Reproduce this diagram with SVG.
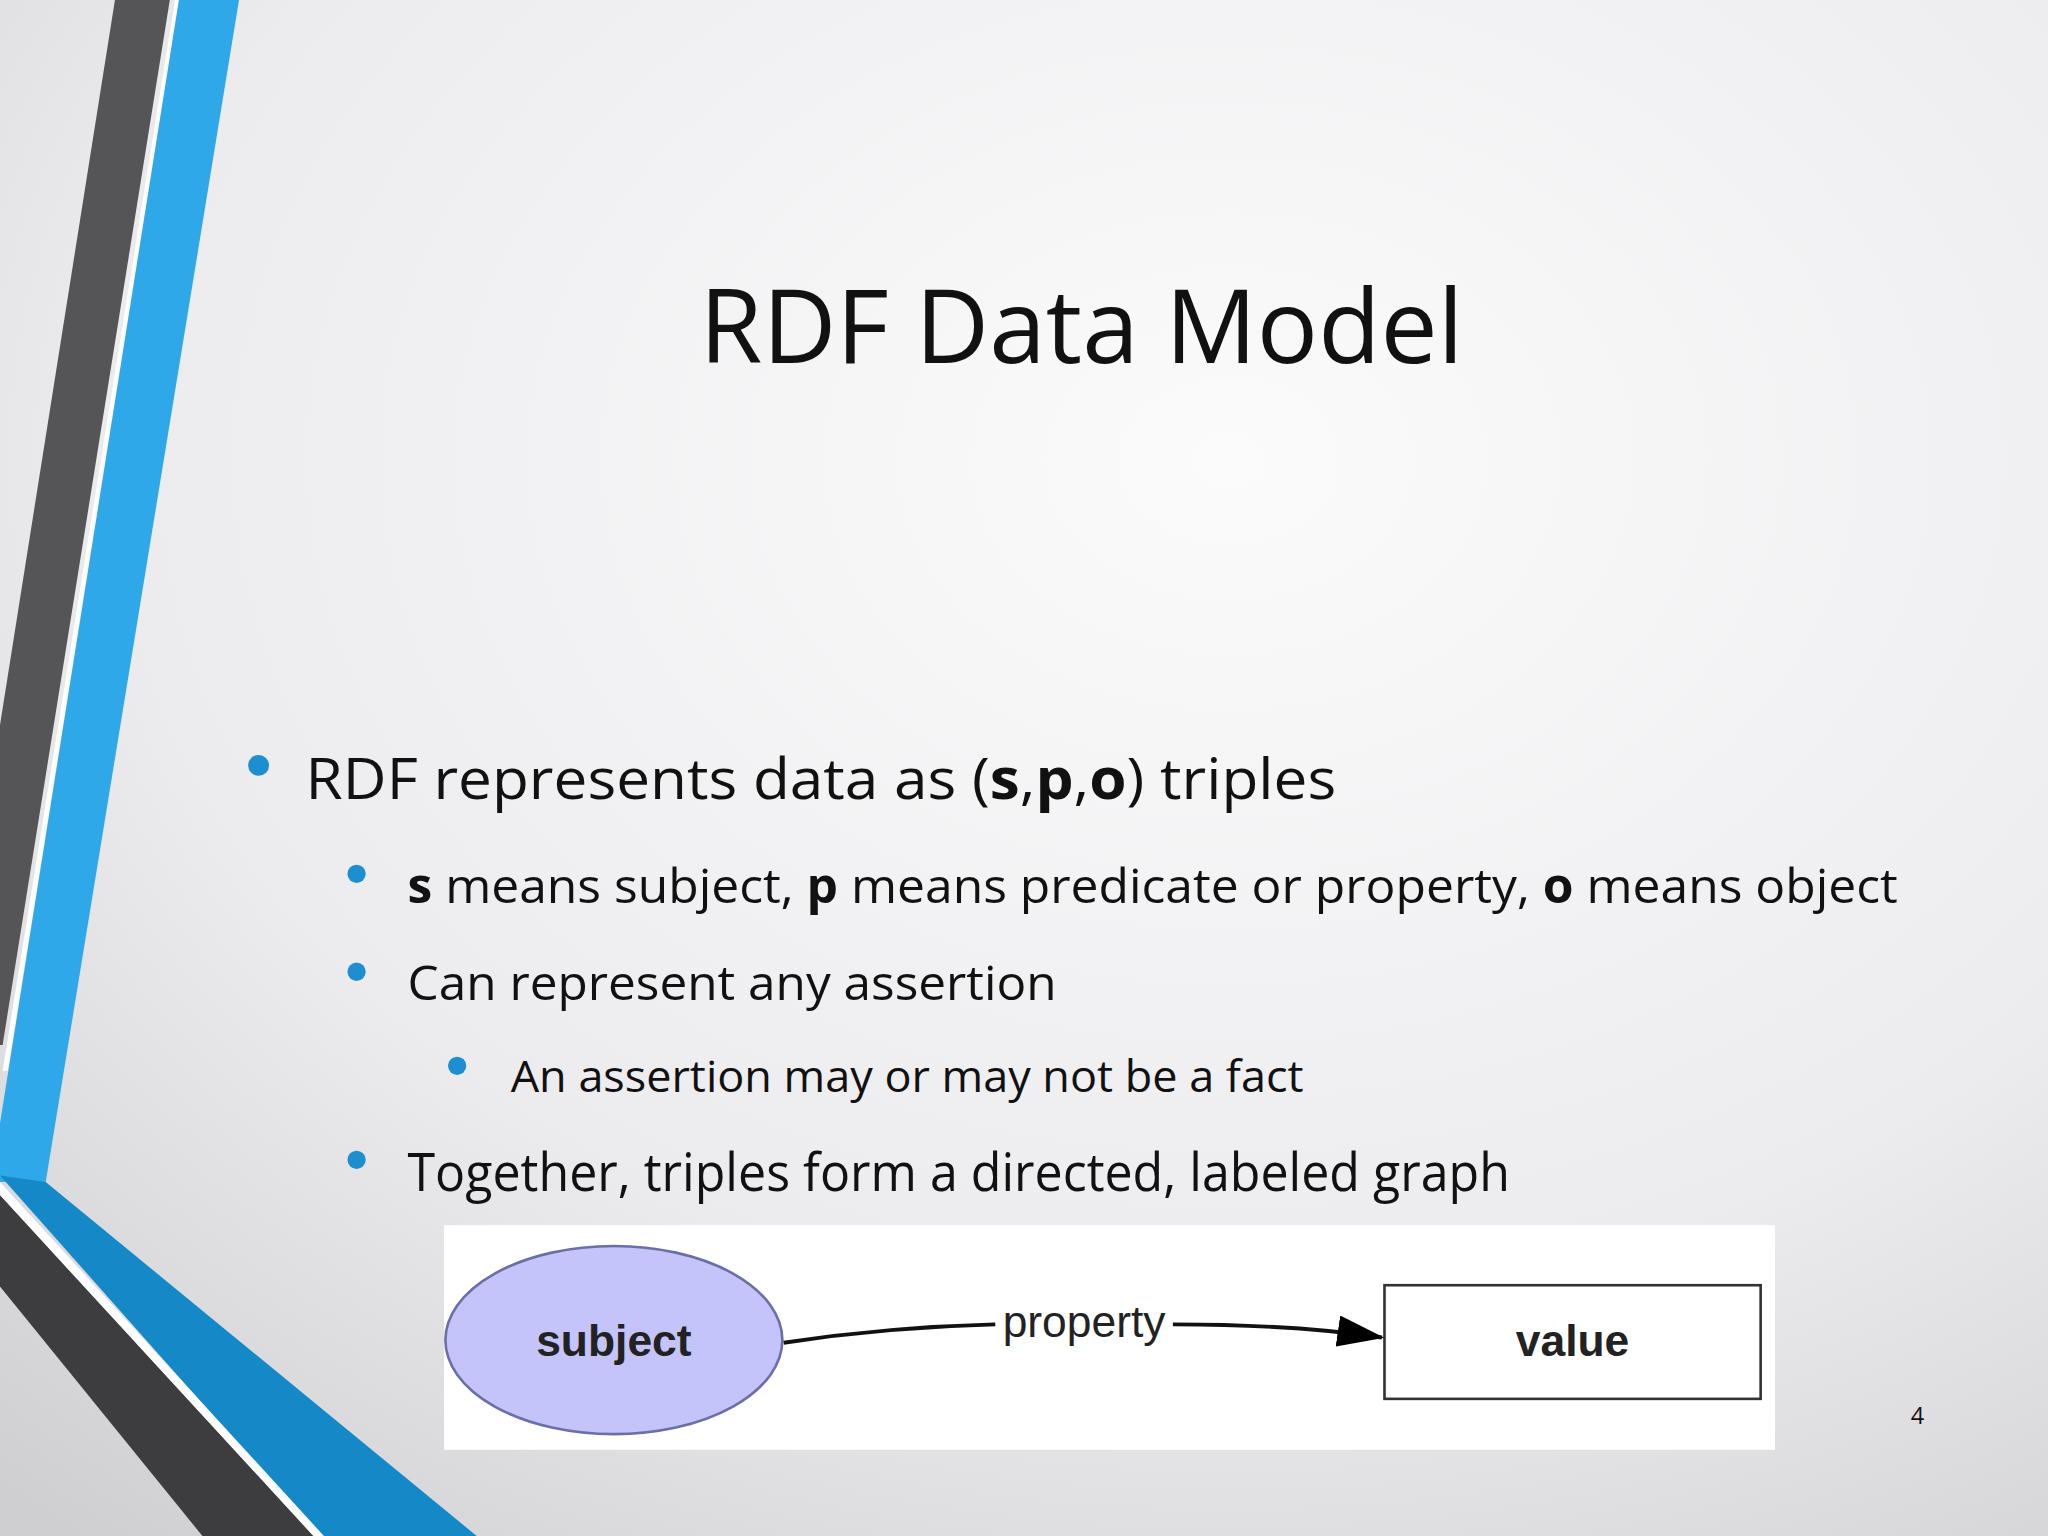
<svg xmlns="http://www.w3.org/2000/svg" width="2048" height="1536" viewBox="0 0 2048 1536">
<defs>
<radialGradient id="bg" cx="0.6" cy="0.3" r="0.9">
<stop offset="0" stop-color="#fbfbfc"/><stop offset="0.6" stop-color="#ececee"/><stop offset="1" stop-color="#cfcfd2"/>
</radialGradient>
<marker id="ah" markerWidth="36" markerHeight="24" refX="34" refY="12" orient="auto" markerUnits="userSpaceOnUse"><path d="M0,0 L36,12 L0,24 Z" fill="#000"/></marker>
<style>
.t{font-family:"Open Sans","Liberation Sans",sans-serif;fill:#111}
.d{font-family:"Liberation Sans",Arial,sans-serif;fill:#222}
.b{fill:#1d8fd0}
</style>
</defs>
<rect width="2048" height="1536" fill="url(#bg)"/>
<g transform="scale(1.30612)">
<g id="decor">
<polygon points="88,0 130,0 2,800 0,800 0,555" fill="#555557"/>
<polygon points="134,0 137,0 6,820 2,820" fill="#ffffff"/>
<polygon points="137,0 183,0 35,905 0,905 0,860" fill="#2ea8e8"/>
<polygon points="0,900 35,905 365,1176 245,1176" fill="#1588c8"/>
<polygon points="0,915 0,985 155,1176 240,1176" fill="#3d3d40"/>
<polygon points="0,905 0,915 240,1176 248,1176" fill="#ffffff"/>
</g>
<text class="t" x="828" y="278" font-size="78" text-anchor="middle">RDF Data Model</text>
<g id="bullets">
<circle class="b" cx="198" cy="586" r="8"/>
<text class="t" x="234" y="612" font-size="44" textLength="789" lengthAdjust="spacingAndGlyphs">RDF represents data as (<tspan font-weight="bold">s</tspan>,<tspan font-weight="bold">p</tspan>,<tspan font-weight="bold">o</tspan>) triples</text>
<circle class="b" cx="273" cy="669" r="7"/>
<text class="t" x="312" y="691" font-size="37" textLength="1141" lengthAdjust="spacingAndGlyphs"><tspan font-weight="bold">s</tspan> means subject, <tspan font-weight="bold">p</tspan> means predicate or property, <tspan font-weight="bold">o</tspan> means object</text>
<circle class="b" cx="273" cy="744" r="7"/>
<text class="t" x="312" y="766" font-size="37" textLength="497" lengthAdjust="spacingAndGlyphs">Can represent any assertion</text>
<circle class="b" cx="350" cy="816" r="7"/>
<text class="t" x="391" y="836" font-size="33" textLength="607" lengthAdjust="spacingAndGlyphs">An assertion may or may not be a fact</text>
<circle class="b" cx="273" cy="888" r="7"/>
<text class="t" x="312" y="912" font-size="40" textLength="844" lengthAdjust="spacingAndGlyphs">Together, triples form a directed, labeled graph</text>
</g>
<rect x="340" y="938" width="1019" height="172" fill="#fff"/>
<g id="subject">
<ellipse cx="470" cy="1026" rx="129" ry="72" fill="#c4c4fa" stroke="#6a6fa8" stroke-width="2"/>
<text class="d" x="470" y="1038" font-size="34" font-weight="bold" text-anchor="middle">subject</text>
</g>
<g id="value">
<rect x="1060" y="984" width="288" height="87" fill="#fff" stroke="#333" stroke-width="2"/>
<text class="d" x="1204" y="1038" font-size="34" font-weight="bold" text-anchor="middle">value</text>
</g>
<g id="connectors" fill="none" stroke="#111" stroke-width="3">
<path d="M600,1028 Q680,1016 762,1014"/>
<path d="M898,1014 Q990,1014 1058,1024" marker-end="url(#ah)"/>
</g>
<text class="d" x="830" y="1024" font-size="34" text-anchor="middle">property</text>
<text class="t" x="1468" y="1090" font-size="18" text-anchor="middle">4</text>
</g>
</svg>
